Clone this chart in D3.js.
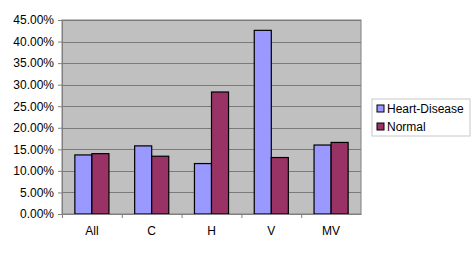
<!DOCTYPE html>
<html>
<head>
<meta charset="utf-8">
<script src="https://cdn.jsdelivr.net/npm/d3@7"></script>
<style>
  body { margin: 0; background: #fff; }
  text { font-family: "Liberation Sans", Arial, sans-serif; }
</style>
</head>
<body>
<div id="chart"></div>
<script>
// chart data
const categories = ["All", "C", "H", "V", "MV"];
const seriesNames = ["Heart-Disease", "Normal"];
const heartDisease = [13.7, 15.8, 11.7, 42.6, 16.0];
const normal = [14.0, 13.4, 28.3, 13.1, 16.6];
const yTicks = [0, 5, 10, 15, 20, 25, 30, 35, 40, 45];
const colors = ["#9999FF", "#993366"];

let w = 474;
let h = 253;
let margin = { top: 20, left: 62, right: 113, bottom: 39 };
let pw = w - margin.left - margin.right;
let ph = h - margin.top - margin.bottom;

let svg = d3.select("#chart")
    .append("svg")
    .attr("width", w)
    .attr("height", h);

let g = svg.append("g")
    .attr("transform", "translate(" + margin.left + "," + margin.top + ")");

let xScale = d3.scaleBand()
    .domain(categories)
    .range([0, pw]);

let inner = d3.scaleBand()
    .domain(seriesNames)
    .range([xScale.bandwidth() * 0.215, xScale.bandwidth() * 0.785]);

let yScale = d3.scaleLinear()
    .domain([0, 45])
    .range([ph, 0]);

// plot background
g.append("rect")
    .attr("width", pw)
    .attr("height", ph)
    .attr("fill", "#C0C0C0")
    .attr("stroke", "#808080")
    .attr("stroke-width", 1);

// gridlines
g.selectAll(".grid")
    .data(yTicks.slice(1))
    .enter()
    .append("line")
    .attr("x1", 0)
    .attr("x2", pw)
    .attr("y1", d => Math.round(yScale(d)) + 0.5)
    .attr("y2", d => Math.round(yScale(d)) + 0.5)
    .attr("stroke", "#7a7a7a")
    .attr("stroke-width", 1);

// bars
let rows = categories.map((c, i) => ({ cat: c, vals: [heartDisease[i], normal[i]] }));
let groups = g.selectAll(".grp")
    .data(rows)
    .enter()
    .append("g")
    .attr("transform", d => "translate(" + xScale(d.cat) + ",0)");

groups.selectAll("rect")
    .data(d => d.vals.map((v, j) => ({ name: seriesNames[j], v: v, j: j })))
    .enter()
    .append("rect")
    .attr("x", d => inner(d.name))
    .attr("y", d => yScale(d.v))
    .attr("width", inner.bandwidth())
    .attr("height", d => ph - yScale(d.v))
    .attr("fill", d => colors[d.j])
    .attr("stroke", "#000")
    .attr("stroke-width", 1.2);

// y axis
let yAxis = d3.axisLeft(yScale)
    .tickValues(yTicks)
    .tickSize(4)
    .tickPadding(4)
    .tickFormat(d => d.toFixed(2) + "%");

g.append("g")
    .attr("class", "y axis")
    .call(yAxis)
    .call(s => s.select(".domain").attr("stroke", "#808080"))
    .call(s => s.selectAll(".tick line").attr("stroke", "#808080"))
    .call(s => s.selectAll("text").attr("font-size", 12).attr("fill", "#000"));

// x axis
let xAxis = d3.axisBottom(xScale)
    .tickSize(0)
    .tickPadding(12);

g.append("g")
    .attr("class", "x axis")
    .attr("transform", "translate(0," + ph + ")")
    .call(xAxis)
    .call(s => s.select(".domain").attr("stroke", "#808080"))
    .call(s => s.selectAll("text").attr("font-size", 12).attr("fill", "#000"));

// category separator ticks
g.selectAll(".xtick")
    .data(categories)
    .enter()
    .append("line")
    .attr("x1", d => xScale(d) + 0.5)
    .attr("x2", d => xScale(d) + 0.5)
    .attr("y1", ph)
    .attr("y2", ph + 4)
    .attr("stroke", "#808080");

// legend
let legend = svg.append("g")
    .attr("transform", "translate(372,99)");

legend.append("rect")
    .attr("width", 98)
    .attr("height", 37)
    .attr("fill", "#fff")
    .attr("stroke", "#c8c8c8");

let items = legend.selectAll(".item")
    .data(seriesNames)
    .enter()
    .append("g")
    .attr("transform", (d, i) => "translate(5," + (5 + i * 18) + ")");

items.append("rect")
    .attr("width", 7)
    .attr("height", 7)
    .attr("y", 1)
    .attr("fill", (d, i) => colors[i])
    .attr("stroke", "#000");

items.append("text")
    .attr("x", 10)
    .attr("y", 9)
    .attr("font-size", 12)
    .text(d => d);
</script>
</body>
</html>
